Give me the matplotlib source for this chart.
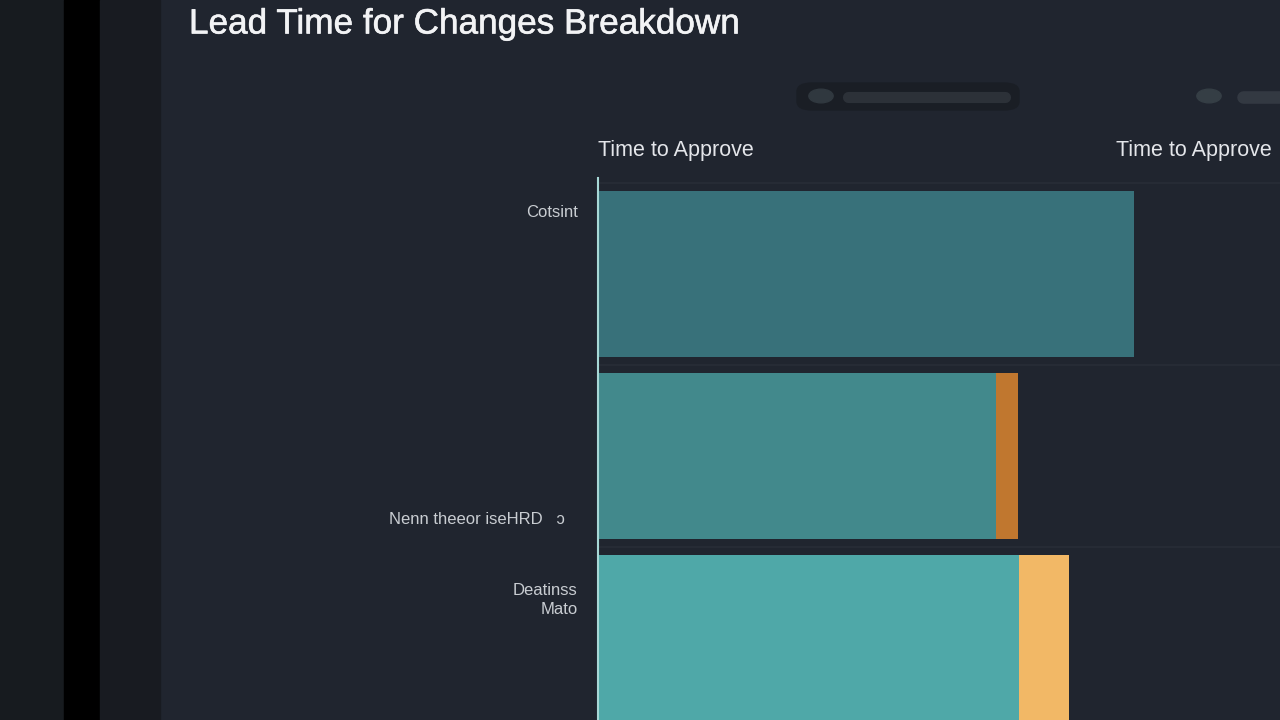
import matplotlib
matplotlib.use('Agg')
import matplotlib.pyplot as plt
import matplotlib.patheffects as pe
from matplotlib.patches import Rectangle, FancyBboxPatch, Circle

plt.rcParams['font.family'] = ['Liberation Sans', 'DejaVu Sans']

# data
categories = ['Cotsint', 'Nenn theeor iseHRD   \u2184', 'Deatinss\nMato']
approve_hours = [39.3, 29.2, 30.9]
extra_hours = [0.0, 1.6, 3.6]
label_offsets = [-0.335, 0.35, -0.21]   # where each label sits relative to its bar
label_x = [-1.5, -2.4, -1.5]
header_left = 'Time to Approve'
header_right = 'Time to Approve'
title = 'Lead Time for Changes Breakdown'

approve_colors = ['#38717a', '#42898c', '#4fa8a8']
extra_colors = ['#c0772f', '#c0772f', '#f2b866']

fig = plt.figure(figsize=(12.8, 7.2), dpi=100)
fig.patch.set_facecolor('#20252f')

# dark strips on the left
fig.patches.append(Rectangle((0, 0), 64/1280, 1, transform=fig.transFigure, color='#171b1f', zorder=0))
fig.patches.append(Rectangle((64/1280, 0), 36/1280, 1, transform=fig.transFigure, color='#000000', zorder=0))
fig.patches.append(Rectangle((100/1280, 0), 60/1280, 1, transform=fig.transFigure, color='#181b21', zorder=0))

# blurred legend-ish things
fig.patches.append(FancyBboxPatch((797/1280, (720-110)/720), 222/1280, 27/720,
                                  boxstyle='round,pad=0,rounding_size=0.012',
                                  transform=fig.transFigure, color='#1a1e25', zorder=1))
fig.patches.append(Circle((821/1280, (720-96)/720), 0.0095, transform=fig.transFigure,
                          color='#30383f', zorder=2))
fig.add_artist(plt.Line2D([848/1280, 1005/1280], [(720-97)/720]*2, transform=fig.transFigure,
                          color='#31363e', lw=8, alpha=0.8, solid_capstyle='round', zorder=2))
fig.patches.append(Circle((1209/1280, (720-96)/720), 0.0095, transform=fig.transFigure,
                          color='#353e45', zorder=2))
fig.add_artist(plt.Line2D([1243/1280, 1285/1280], [(720-97)/720]*2, transform=fig.transFigure,
                          color='#393f48', lw=9, alpha=0.8, solid_capstyle='round', zorder=2))

ax = fig.add_axes([598/1280, 0, 682/1280, (720-178)/720])
ax.patch.set_alpha(0)

ypos = list(range(len(categories)))
ax.barh(ypos, approve_hours, height=0.91, color=approve_colors, zorder=3)
ax.barh(ypos, extra_hours, left=approve_hours, height=0.91, color=extra_colors, zorder=3)

for y in [-0.5, 0.5, 1.5]:
    ax.axhline(y, color='#282d37', lw=1.2, zorder=1)

ax.set_xlim(0, 50)
ax.set_ylim(2.448, -0.527)
for s in ['top', 'right', 'bottom']:
    ax.spines[s].set_visible(False)
ax.spines['left'].set_color('#a7d8d6')
ax.spines['left'].set_linewidth(1.5)
ax.spines['left'].set_zorder(5)
ax.set_xticks([])
ax.set_yticks([])

for i, lab in enumerate(categories):
    ax.text(label_x[i], ypos[i] + label_offsets[i], lab, ha='right', va='center',
            fontsize=12, color='#c9cdd2', linespacing=1.3)

ax.text(0, 1.05, header_left, transform=ax.transAxes, ha='left', va='center',
        fontsize=15.5, color='#e4e6ea')
ax.text(0.9885, 1.05, header_right, transform=ax.transAxes, ha='right', va='center',
        fontsize=15.5, color='#e4e6ea')

fig.text(189/1280, (720-24)/720, title, ha='left', va='center', fontsize=25.3,
         color='#f2f3f5',
         path_effects=[pe.withStroke(linewidth=0.4, foreground='#f2f3f5')])

fig.savefig('out.png', dpi=100, facecolor=fig.get_facecolor())
